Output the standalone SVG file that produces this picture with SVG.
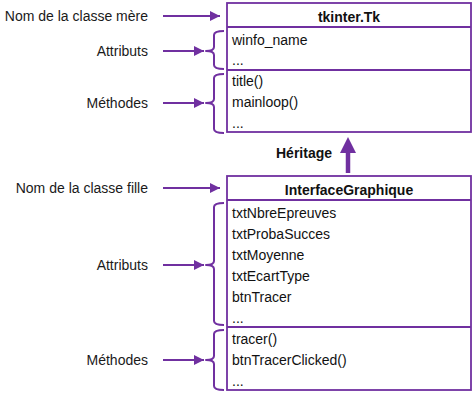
<svg xmlns="http://www.w3.org/2000/svg" width="474" height="394" viewBox="0 0 474 394">
<style>
.lbl{font-family:"Liberation Sans",Arial,sans-serif;font-size:14px;fill:#1a1a1a}
.r{text-anchor:end}
.item{font-family:"Liberation Sans",Arial,sans-serif;font-size:14px;fill:#111}
.title{font-family:"Liberation Sans",Arial,sans-serif;font-size:14px;font-weight:bold;fill:#111;text-anchor:middle}
.box{fill:#fff;stroke:#7030A0;stroke-width:1.8}
.sep{stroke:#7030A0;stroke-width:1.8}
.arr{stroke:#7030A0;stroke-width:2.2;fill:none}
.brace{stroke:#7030A0;stroke-width:2;fill:none;stroke-linejoin:round}
</style>
<defs>
<marker id="ah" viewBox="0 0 10 10" refX="10" refY="5" markerWidth="10" markerHeight="10" markerUnits="userSpaceOnUse" orient="auto">
<path d="M0,0 L10,5 L0,10 Z" fill="#7030A0"/>
</marker>
</defs>
<rect width="474" height="394" fill="#fff"/>

<g id="labels">
<text class="lbl r" x="148" y="21">Nom de la classe mère</text>
<text class="lbl r" x="148" y="56">Attributs</text>
<text class="lbl r" x="148" y="108">Méthodes</text>
<text class="lbl r" x="148" y="193">Nom de la classe fille</text>
<text class="lbl r" x="148" y="270">Attributs</text>
<text class="lbl r" x="148" y="365">Méthodes</text>
</g>

<g id="tkinter-Tk">
<rect class="box" x="227" y="3" width="244" height="129"/>
<line class="sep" x1="227" y1="27" x2="471" y2="27"/>
<line class="sep" x1="227" y1="70" x2="471" y2="70"/>
<text class="title" x="349" y="22">tkinter.Tk</text>
<text class="item" x="232" y="45">winfo_name</text>
<text class="item" x="232" y="65">...</text>
<text class="item" x="232" y="86">title()</text>
<text class="item" x="232" y="107">mainloop()</text>
<text class="item" x="232" y="128">...</text>
</g>

<g id="InterfaceGraphique">
<rect class="box" x="227" y="176" width="244" height="214"/>
<line class="sep" x1="227" y1="200" x2="471" y2="200"/>
<line class="sep" x1="227" y1="327" x2="471" y2="327"/>
<text class="title" x="349" y="195">InterfaceGraphique</text>
<text class="item" x="232" y="218">txtNbreEpreuves</text>
<text class="item" x="232" y="239">txtProbaSucces</text>
<text class="item" x="232" y="260">txtMoyenne</text>
<text class="item" x="232" y="281">txtEcartType</text>
<text class="item" x="232" y="302">btnTracer</text>
<text class="item" x="232" y="323">...</text>
<text class="item" x="232" y="344">tracer()</text>
<text class="item" x="232" y="365">btnTracerClicked()</text>
<text class="item" x="232" y="386">...</text>
</g>

<g id="heritage">
<text class="title" x="304" y="158">Héritage</text>
</g>

<g id="connectors">
<line class="arr" x1="163" y1="16" x2="220" y2="16" marker-end="url(#ah)"/>
<line class="arr" x1="163" y1="51" x2="204" y2="51" marker-end="url(#ah)"/>
<line class="arr" x1="163" y1="103" x2="204" y2="103" marker-end="url(#ah)"/>
<line class="arr" x1="163" y1="188" x2="220" y2="188" marker-end="url(#ah)"/>
<line class="arr" x1="163" y1="265" x2="204" y2="265" marker-end="url(#ah)"/>
<line class="arr" x1="163" y1="360" x2="204" y2="360" marker-end="url(#ah)"/>

<path class="brace" d="M224,31 Q214,31 214,35 L214,47 Q214,51 206,51 Q214,51 214,55 L214,65 Q214,69 224,69"/>
<path class="brace" d="M224,74 Q214,74 214,78 L214,99 Q214,103 206,103 Q214,103 214,107 L214,129 Q214,133 224,133"/>
<path class="brace" d="M224,203 Q214,203 214,207 L214,261 Q214,265 206,265 Q214,265 214,269 L214,321 Q214,325 224,325"/>
<path class="brace" d="M224,330 Q214,330 214,334 L214,356 Q214,360 206,360 Q214,360 214,364 L214,386 Q214,390 224,390"/>

<line x1="348" y1="173" x2="348" y2="151" stroke="#7030A0" stroke-width="4.5"/>
<path d="M348,137 L356,153 L340,153 Z" fill="#7030A0"/>
</g>
</svg>
